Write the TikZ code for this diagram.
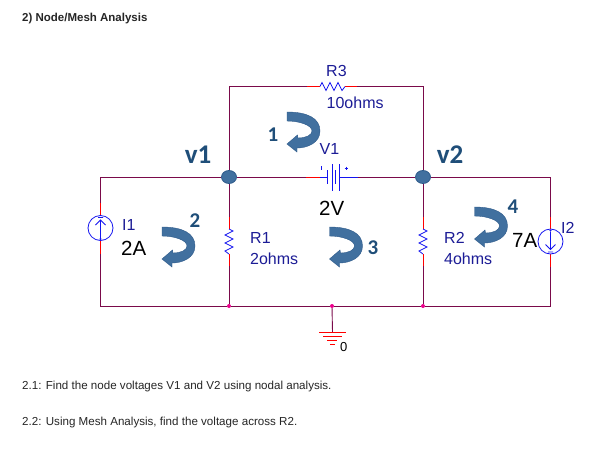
\documentclass[tikz,border=0pt]{standalone}
\usepackage{fontspec}
\usetikzlibrary{shapes.geometric}
\setmainfont{Liberation Sans}
\newfontfamily\calib{Carlito}
\definecolor{wire}{HTML}{7A0A4A}
\definecolor{part}{HTML}{1414F0}
\definecolor{lab}{HTML}{1C1C96}
\definecolor{swirl}{HTML}{41709F}
\definecolor{swirlD}{HTML}{2E5A8A}
\definecolor{numb}{HTML}{1F4E79}
\tikzset{
 x=1pt,y=-1pt,
 wireline/.style={draw=wire,line width=0.9pt},
 redline/.style={draw=red,line width=0.9pt},
 partline/.style={draw=part,line width=0.8pt},
 junction/.style={circle,fill=magenta,inner sep=0pt,minimum size=4pt},
 bignode/.style={ellipse,draw=swirlD,line width=0.8pt,fill=swirl,inner sep=0pt,minimum width=15pt,minimum height=13pt},
 lbl/.style={inner sep=0pt,text=lab,anchor=west,font=\fontsize{16}{18}\selectfont},
 val/.style={inner sep=0pt,text=black,anchor=west,font=\fontsize{20.5}{22}\selectfont},
 num/.style={inner sep=0pt,text=numb,font=\calib\bfseries\fontsize{21}{23}\selectfont},
 vname/.style={inner sep=0pt,text=numb,font=\calib\bfseries\fontsize{27}{28}\selectfont},
 body/.style={inner sep=0pt,anchor=west,text=black!85,font=\fontsize{11.6}{13}\selectfont},
 srcring/.style={circle,draw=part,line width=0.8pt,inner sep=0pt,minimum size=25pt,fill=white},
 swirlpic/.pic={
  \fill[swirl,draw=swirlD,line width=0.4pt] (0,0) .. controls (20,0) and (33,6) .. (33,19)
   .. controls (33,31) and (20,36) .. (10,36) -- (10,40) -- (0,32) -- (10.5,23) -- (11,26)
   .. controls (19,26) and (25,23) .. (25,19) .. controls (25,13) and (12,9) .. (0,9) -- cycle;
 }
}
\begin{document}
\begin{tikzpicture}
\useasboundingbox (0,0) rectangle (603,456);
\fill[white] (0,0) rectangle (603,456);
% anchors
\node[bignode] (v1) at (229,177) {};
\node[bignode] (v2) at (423,177) {};
\node[junction] (b1) at (229,306) {};
\node[junction] (b2) at (332,306) {};
\node[junction] (b3) at (423,306) {};
\coordinate (tl) at (100.5,177); \coordinate (bl) at (100.5,306);
\coordinate (tr) at (550.5,177); \coordinate (br) at (550.5,306);
\coordinate (r3l) at (229,86.5); \coordinate (r3r) at (423,86.5);
\coordinate (gnd) at (332.5,332);
% wires
\draw[wireline] (100.5,203) -- (tl) -- (v1);
\draw[wireline] (100.5,254) -- (bl) -- (b1) -- (b2) -- (b3) -- (br) -- (550.5,267);
\draw[wireline] (550.5,217) -- (tr) -- (v2);
\draw[wireline] (v1) -- (r3l) -- (307,86.5);
\draw[wireline] (357,86.5) -- (r3r) -- (v2);
\draw[wireline] (v1) -- (306,177);
\draw[wireline] (358,177) -- (v2);
\draw[wireline] (v1) -- (229,217);
\draw[wireline] (229,266) -- (b1);
\draw[wireline] (v2) -- (423,217);
\draw[wireline] (423,266) -- (b3);
\draw[wireline] (b2) -- (gnd);
% red stubs
\draw[redline] (100.5,203) -- (100.5,216) (100.5,241) -- (100.5,254);
\draw[redline] (550.5,217) -- (550.5,229) (550.5,254) -- (550.5,267);
\draw[redline] (229,217) -- (229,229) (229,254) -- (229,266);
\draw[redline] (423,217) -- (423,229) (423,254) -- (423,266);
\draw[redline] (307,86.5) -- (320,86.5) (345,86.5) -- (357,86.5);
\draw[redline] (306,177) -- (320,177);
% resistors
\draw[partline] (229,229) -- (233,231) -- (225,235) -- (233,239) -- (225,243) -- (233,247) -- (225,251) -- (229,254);
\draw[partline] (423,229) -- (427,231) -- (419,235) -- (427,239) -- (419,243) -- (427,247) -- (419,251) -- (423,254);
\draw[partline] (320,86.5) -- (322,82.5) -- (326,90.5) -- (330,82.5) -- (334,90.5) -- (338,82.5) -- (342,90.5) -- (345,86.5);
% battery
\draw[partline] (320,177) -- (327.3,177) (339.3,177) -- (358,177);
\draw[partline] (327.3,170) -- (327.3,183.5) (332.3,164) -- (332.3,191) (335.7,170) -- (335.7,184) (339.3,164) -- (339.3,191);
\draw[partline] (321.3,166) -- (321.3,170) (346.3,166.5) -- (346.3,170) (344.6,168.3) -- (348,168.3);
% sources
\node[srcring] (I1) at (100.5,228) {};
\draw[partline] (100.5,238) -- (100.5,220) (95.5,225) -- (100.5,220) -- (105.5,225) (98,217.5) -- (103,217.5);
\fill[part] (100.5,239) circle (1.2);
\node[srcring] (I2) at (550.5,241.5) {};
\draw[partline] (550.5,231.5) -- (550.5,249.5) (545.5,244.5) -- (550.5,249.5) -- (555.5,244.5) (548,252) -- (553,252);
\fill[part] (550.5,230.5) circle (1.2);
% ground
\draw[draw=red,line width=0.8pt] (319,332.5) -- (346,332.5) (323,336.5) -- (342,336.5) (327,340.5) -- (337,340.5) (330,344.5) -- (335,344.5);
% swirls
\pic at (287,112) {swirlpic};
\pic at (162,227) {swirlpic};
\pic at (329.5,227) {swirlpic};
\pic at (474.5,207) {swirlpic};
% labels
\node[lbl] (tR3) at (326,70.5) {R3};
\node[lbl] (tR3v) at (326.5,102.5) {10ohms};
\node[lbl] (tV1) at (319.5,149) {V1};
\node[val] (tV1v) at (319,208) {2V};
\node[lbl] (tI1) at (122,225) {I1};
\node[val] (tI1v) at (121,248.5) {2A};
\node[lbl] (tR1) at (250,238) {R1};
\node[lbl] (tR1v) at (250,259) {2ohms};
\node[lbl] (tR2) at (444,238) {R2};
\node[lbl] (tR2v) at (444,259) {4ohms};
\node[val] (tI2v) at (512,240) {7A};
\node[lbl] (tI2) at (561,227.5) {I2};
\node[inner sep=0pt,anchor=west,text=black,font=\fontsize{13}{15}\selectfont] (t0) at (340,347) {0};
% node names and numbers
\node[vname] (nv1) at (198,155) {v1};
\node[vname] (nv2) at (450,155) {v2};
\node[num] (n1) at (273,135) {1};
\node[num] (n2) at (195,221) {2};
\node[num] (n3) at (373,248) {3};
\node[num] (n4) at (513,207) {4};
% text
\node[body,font=\bfseries\fontsize{11.5}{13}\selectfont] (title) at (22,19) {2) Node/Mesh Analysis};
\node[body] (q1) at (22,386) {2.1: Find the node voltages V1 and V2 using nodal analysis.};
\node[body] (q2) at (22,422) {2.2: Using Mesh Analysis, find the voltage across R2.};
\end{tikzpicture}
\end{document}
